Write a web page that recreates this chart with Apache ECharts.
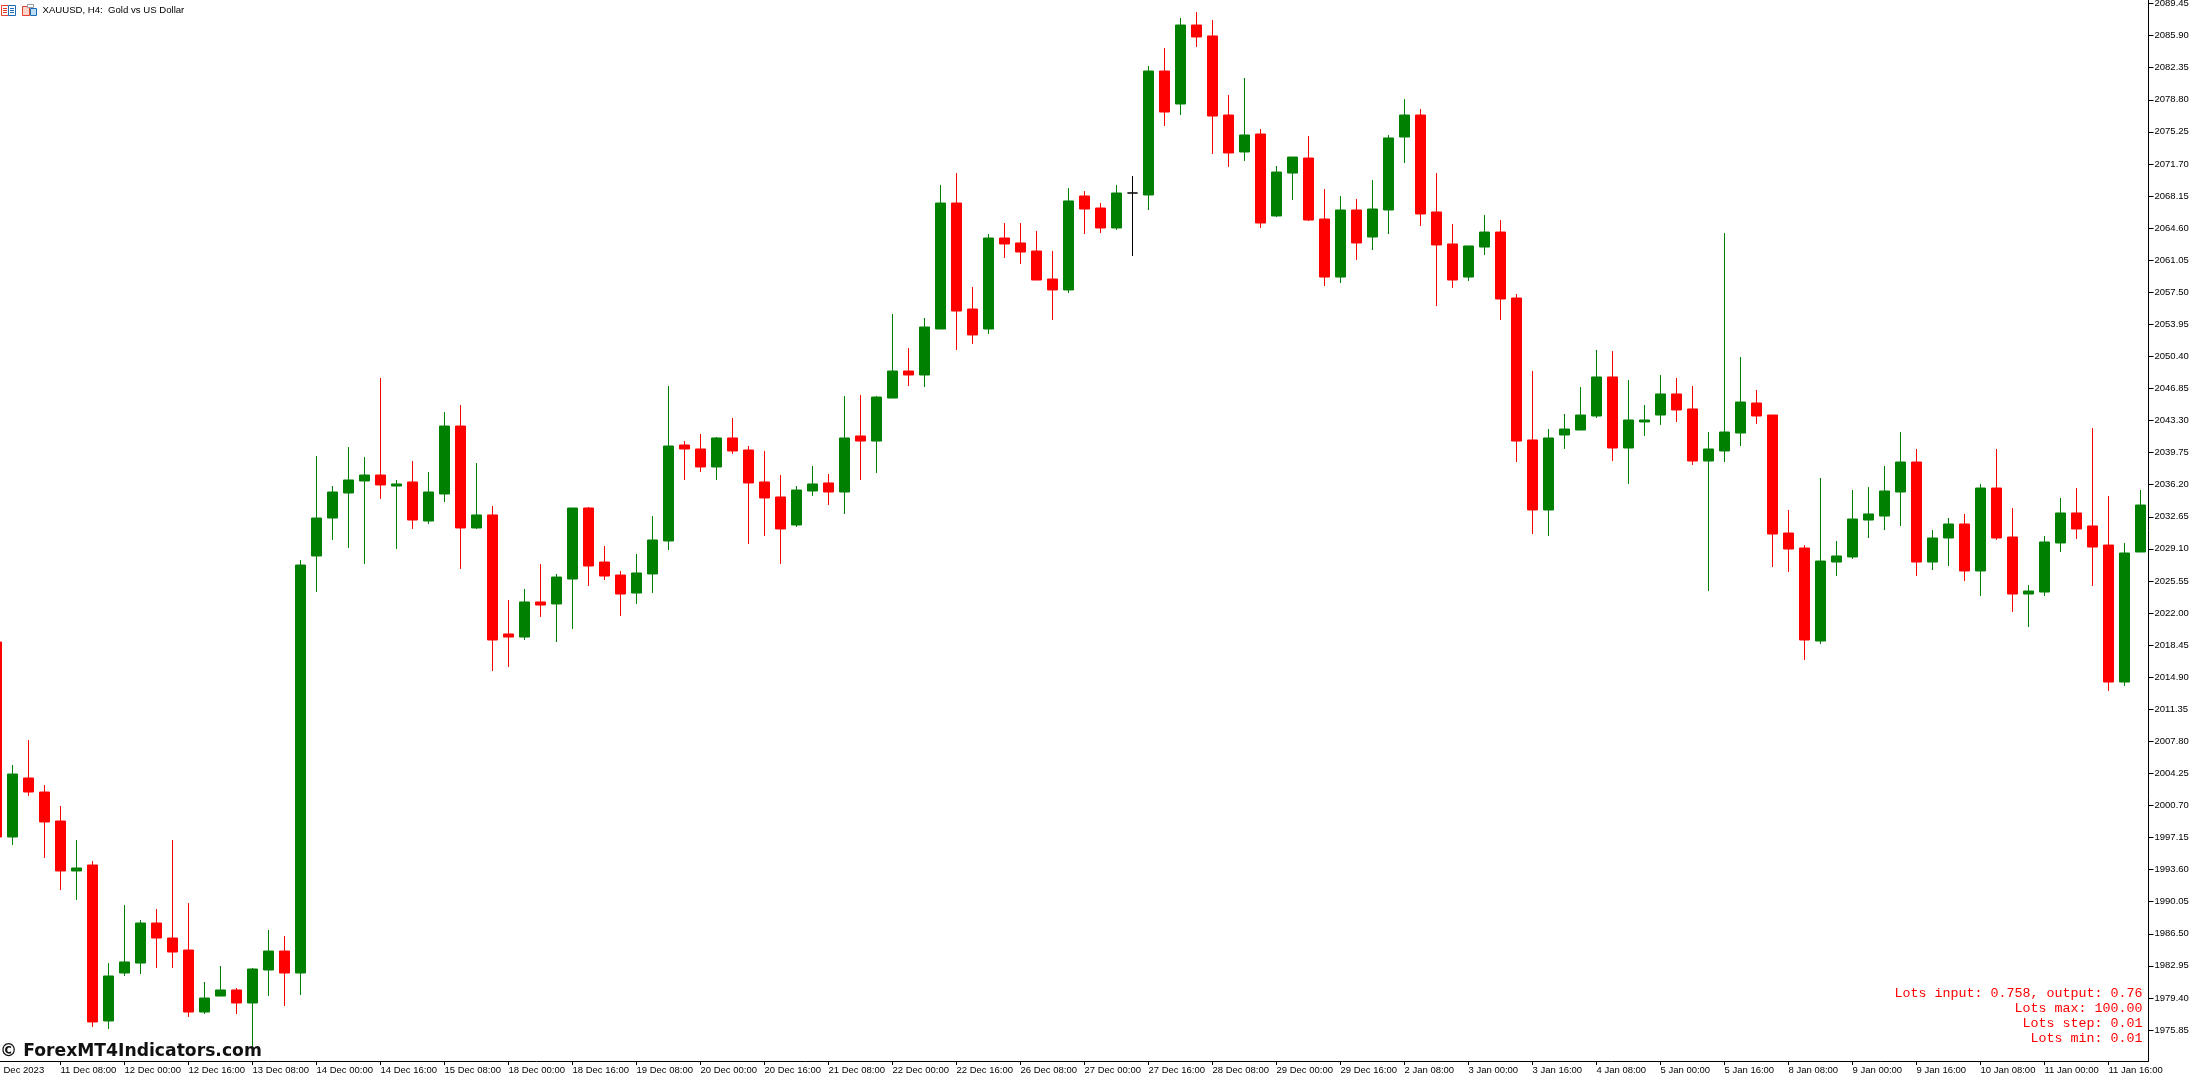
<!DOCTYPE html>
<html>
<head>
<meta charset="utf-8">
<title>XAUUSD, H4</title>
<script src="https://cdn.jsdelivr.net/npm/echarts@6/dist/echarts.min.js"></script>
<style>
html, body { margin: 0; padding: 0; background: #fff; }
#main { width: 2190px; height: 1081px; }
</style>
</head>
<body>
<div id="main"></div>
<script>
var opens = [2018.79,1997.21,2003.74,2002.19,1998.98,1993.45,1994.11,1976.85,1982.16,1983.26,1987.69,1986.03,1984.70,1977.84,1979.61,1980.28,1978.84,1982.49,1984.59,
  1982.16,2028.31,2032.51,2035.28,2036.61,2037.27,2036.05,2036.50,2032.18,2035.17,2042.69,2031.41,2032.85,2019.68,2019.34,2023.22,2023.00,2025.76,2033.62,2027.64,2026.20,2024.21,2026.32,
  2029.97,2040.59,2040.15,2038.16,2041.37,2040.04,2036.50,2034.84,2031.74,2035.50,2036.39,2035.39,2041.59,2041.03,2045.79,2048.78,2048.34,2053.43,2067.37,2055.64,2053.43,2063.50,2062.95,2062.06,
  2058.96,2057.75,2068.15,2066.82,2064.61,2068.48,2068.26,2081.98,2078.33,2087.07,2085.86,2077.11,2073.02,2075.01,2065.94,2070.69,2072.35,2065.60,2059.18,2066.60,2063.61,2066.60,2074.68,2077.11,
  2066.38,2062.84,2059.18,2062.50,2064.16,2056.86,2041.15,2033.40,2041.70,2042.25,2043.80,2048.12,2040.26,2043.14,2043.91,2046.24,2044.58,2038.82,2039.93,2041.92,2045.24,2043.91,2030.85,
  2029.19,2018.90,2027.64,2028.20,2032.29,2032.73,2035.39,2038.71,2027.64,2030.30,2031.85,2026.65,2035.83,2030.41,2024.10,2024.32,2029.75,2033.07,2031.63,2029.52,2014.36,2028.75];
var closes = [1997.21,2004.18,2002.19,1998.87,1993.45,1993.78,1976.74,1981.83,1983.38,1987.69,1986.03,1984.48,1977.84,1979.39,1980.28,1978.84,1982.60,1984.59,1982.16,
  2027.31,2032.51,2035.39,2036.72,2037.27,2036.17,2036.28,2032.29,2035.39,2042.69,2031.41,2032.85,2019.01,2019.34,2023.22,2022.88,2025.98,2033.62,2027.20,2026.09,2024.10,2026.43,2030.08,
  2040.48,2040.15,2038.16,2041.37,2039.93,2036.39,2034.73,2031.30,2035.61,2036.28,2035.39,2041.37,2041.03,2045.90,2048.78,2048.34,2053.65,2067.37,2055.42,2052.77,2063.50,2062.84,2061.95,2058.85,
  2057.75,2067.60,2066.71,2064.61,2068.48,2068.48,2081.98,2077.44,2087.07,2085.75,2077.00,2072.91,2074.90,2065.16,2070.80,2072.46,2065.49,2059.18,2066.60,2062.95,2066.71,2074.57,2077.11,2066.16,
  2062.73,2058.85,2062.62,2064.16,2056.75,2041.03,2033.40,2041.37,2042.36,2043.91,2048.12,2040.26,2043.36,2043.36,2046.24,2044.47,2038.82,2040.15,2042.03,2045.35,2043.80,2030.74,2029.08,
  2019.01,2027.75,2028.31,2032.40,2032.96,2035.50,2038.71,2027.64,2030.30,2031.85,2026.65,2035.83,2030.30,2024.10,2024.43,2029.86,2033.07,2031.30,2029.30,2014.36,2028.64,2033.95];
var lows = [1996.50,1996.32,2001.75,1994.89,1991.34,1990.24,1976.18,1975.96,1981.83,1982.05,1982.71,1982.71,1977.29,1977.62,1979.61,1977.62,1973.42,1979.61,1978.51,
  1979.72,2024.32,2030.08,2029.19,2027.42,2034.62,2029.08,2031.30,2031.85,2034.28,2026.87,2031.30,2015.58,2016.02,2019.01,2021.56,2018.79,2020.23,2024.99,2025.65,2021.67,2023.00,2024.21,
  2028.97,2036.72,2037.60,2036.72,2039.60,2029.64,2030.52,2027.42,2031.52,2034.95,2033.95,2032.96,2036.72,2037.49,2045.79,2047.12,2047.01,2053.43,2051.11,2051.77,2052.88,2061.29,2060.62,2058.85,
  2054.43,2057.41,2063.94,2064.05,2064.39,2061.51,2066.60,2075.90,2077.11,2084.64,2072.80,2071.36,2072.02,2064.61,2065.82,2067.71,2065.38,2058.19,2058.52,2061.07,2062.17,2063.94,2071.80,2064.83,
  2055.97,2057.97,2058.74,2061.62,2054.43,2038.71,2030.74,2030.52,2040.15,2042.25,2043.58,2038.82,2036.28,2041.59,2042.81,2043.14,2038.38,2024.43,2038.71,2040.48,2042.92,2027.09,2026.54,
  2016.80,2018.57,2026.09,2027.98,2030.30,2031.18,2031.63,2026.09,2026.76,2027.20,2025.54,2023.88,2030.08,2022.11,2020.45,2023.88,2028.75,2030.19,2024.99,2013.37,2013.92,2028.75];
var highs = [2019.50,2005.18,2007.94,2002.96,2000.64,1996.88,1994.55,1983.26,1989.68,1988.02,1989.24,1996.88,1989.90,1981.16,1982.93,1980.50,1982.71,1986.92,1986.25,
  2027.86,2039.37,2036.05,2040.37,2039.26,2048.01,2036.72,2038.82,2037.60,2044.24,2045.02,2038.60,2033.84,2023.44,2024.66,2027.42,2026.32,2033.62,2033.73,2029.41,2026.65,2028.53,2032.73,
  2047.12,2041.03,2041.81,2041.48,2043.58,2040.48,2039.93,2037.27,2036.05,2038.27,2037.38,2046.01,2046.13,2046.01,2055.09,2051.33,2054.65,2069.37,2070.69,2058.08,2063.94,2065.16,2065.16,2064.28,
  2062.06,2069.03,2068.70,2067.37,2069.37,2070.36,2082.54,2084.53,2087.85,2088.51,2087.63,2079.33,2081.21,2075.56,2071.47,2072.46,2074.79,2068.92,2068.15,2067.82,2069.92,2074.90,2078.88,2077.78,
  2070.69,2065.05,2062.62,2066.05,2065.49,2057.30,2048.78,2042.36,2044.02,2047.01,2051.11,2050.99,2047.79,2045.02,2048.34,2048.01,2047.12,2042.03,2064.05,2050.33,2046.68,2043.91,2033.40,
  2029.52,2036.94,2029.97,2035.61,2035.94,2038.27,2042.03,2040.15,2031.18,2032.51,2032.96,2036.28,2040.15,2033.62,2025.10,2030.52,2034.73,2035.83,2042.47,2034.95,2029.75,2035.61];

// one label every 4 bars, the first one sits on the first bar
var timeLabels = ['Dec 2023','11 Dec 08:00','12 Dec 00:00','12 Dec 16:00','13 Dec 08:00','14 Dec 00:00','14 Dec 16:00','15 Dec 08:00','18 Dec 00:00',
  '18 Dec 16:00','19 Dec 08:00','20 Dec 00:00','20 Dec 16:00','21 Dec 08:00','22 Dec 00:00','22 Dec 16:00','26 Dec 08:00','27 Dec 00:00','27 Dec 16:00',
  '28 Dec 08:00','29 Dec 00:00','29 Dec 16:00','2 Jan 08:00','3 Jan 00:00','3 Jan 16:00','4 Jan 08:00','5 Jan 00:00','5 Jan 16:00','8 Jan 08:00',
  '9 Jan 00:00','9 Jan 16:00','10 Jan 08:00','11 Jan 00:00','11 Jan 16:00'];
var priceLabels = [2089.45,2085.90,2082.35,2078.80,2075.25,2071.70,2068.15,2064.60,2061.05,2057.50,2053.95,2050.40,2046.85,2043.30,2039.75,2036.20,2032.65,
  2029.10,2025.55,2022.00,2018.45,2014.90,2011.35,2007.80,2004.25,2000.70,1997.15,1993.60,1990.05,1986.50,1982.95,1979.40,1975.85];
var lotsLines = ['Lots input: 0.758, output: 0.76','Lots max: 100.00','Lots step: 0.01','Lots min: 0.01'];

var categories = [];
var candles = [];
for (let i = 0; i < opens.length; i++) {
    categories.push(i % 4 == 0 ? timeLabels[i / 4] : '');
    candles.push([opens[i], closes[i], lows[i], highs[i]]);
}

var axisFont = '"Liberation Sans", sans-serif';

var graphics = [
    // window icons next to the title
    { type: 'rect', shape: { x: 1.5, y: 5.5, width: 7, height: 10 }, style: { fill: '#fff', stroke: '#e8402f', lineWidth: 1 } },
    { type: 'rect', shape: { x: 8.5, y: 5.5, width: 7, height: 10 }, style: { fill: '#fff', stroke: '#1c6cb4', lineWidth: 1 } },
    { type: 'rect', shape: { x: 3, y: 8, width: 4, height: 1 }, style: { fill: '#e8402f' } },
    { type: 'rect', shape: { x: 3, y: 10, width: 4, height: 1 }, style: { fill: '#e8402f' } },
    { type: 'rect', shape: { x: 3, y: 12, width: 4, height: 1 }, style: { fill: '#e8402f' } },
    { type: 'rect', shape: { x: 10, y: 8, width: 4, height: 1 }, style: { fill: '#1c6cb4' } },
    { type: 'rect', shape: { x: 10, y: 10, width: 4, height: 1 }, style: { fill: '#1c6cb4' } },
    { type: 'rect', shape: { x: 10, y: 12, width: 4, height: 1 }, style: { fill: '#1c6cb4' } },
    { type: 'rect', shape: { x: 22.5, y: 6.5, width: 7, height: 9 }, style: { fill: '#fbd5cc', stroke: '#e8402f', lineWidth: 1 } },
    { type: 'rect', shape: { x: 30.5, y: 8.5, width: 6, height: 7 }, style: { fill: '#bcdcf5', stroke: '#1c6cb4', lineWidth: 1 } },
    { type: 'rect', shape: { x: 27.5, y: 4.5, width: 6, height: 3 }, style: { fill: '#fff', stroke: '#9a9a9a', lineWidth: 1 } },
    { type: 'text', x: 42.5, y: 10, style: { text: 'XAUUSD, H4:  Gold vs US Dollar', font: '9.6px "Liberation Sans", sans-serif', fill: '#000', verticalAlign: 'middle' } },
    { type: 'text', x: 0, y: 1052, z: 100, style: { text: '\u00a9 ForexMT4Indicators.com', font: 'bold 17.2px "DejaVu Sans", sans-serif', fill: '#111', verticalAlign: 'middle' } }
];
for (let i = 0; i < lotsLines.length; i++) {
    graphics.push({
        type: 'text', x: 2142.5, y: 993 + i * 15,
        style: { text: lotsLines[i], font: '13.33px "Liberation Mono", monospace', fill: '#ff0000', align: 'right', verticalAlign: 'middle' }
    });
}

var option = {
    animation: false,
    backgroundColor: '#fff',
    // outerBoundsMode off: the last bar labels and the first bar run past the edges on purpose
    grid: { left: -11.5, top: 0, width: 2160, height: 1061, outerBoundsMode: 'none' },
    xAxis: {
        type: 'category',
        data: categories,
        boundaryGap: true,
        axisLine: { show: true, lineStyle: { color: '#000', width: 1 } },
        axisTick: {
            show: true, length: 4, alignWithLabel: true,
            interval: function (i) { return i % 4 == 0; },
            lineStyle: { color: '#000', width: 1 }
        },
        axisLabel: {
            interval: function (i) { return i % 4 == 0; },
            hideOverlap: false,
            align: 'left',
            margin: 4,
            color: '#000',
            fontFamily: axisFont,
            fontSize: 9.5,
            formatter: function (value, i) {
                // the label of the first bar runs off the left edge
                return i == 0 ? '{first|' + value + '}' : value;
            },
            rich: { first: { padding: [0, 0, 0, 7], color: '#000', fontFamily: axisFont, fontSize: 9.5 } }
        },
        splitLine: { show: false }
    },
    yAxis: {
        type: 'value',
        position: 'right',
        min: 1972.42,
        max: 2089.84,
        scale: true,
        axisLine: { show: true, lineStyle: { color: '#000', width: 1 } },
        axisTick: { show: true, length: 5, customValues: priceLabels, lineStyle: { color: '#000', width: 1 } },
        axisLabel: {
            customValues: priceLabels,
            margin: 6,
            color: '#000',
            fontFamily: axisFont,
            fontSize: 9.5,
            formatter: function (value) { return value.toFixed(2); }
        },
        splitLine: { show: false }
    },
    series: [{
        type: 'candlestick',
        data: candles,
        barWidth: 10,
        itemStyle: {
            color: '#008000',
            color0: '#ff0000',
            borderColor: '#008000',
            borderColor0: '#ff0000',
            borderColorDoji: '#000000',
            borderWidth: 1
        }
    }],
    graphic: graphics
};

var myChart = echarts.init(document.getElementById('main'));
myChart.setOption(option);
</script>
</body>
</html>
